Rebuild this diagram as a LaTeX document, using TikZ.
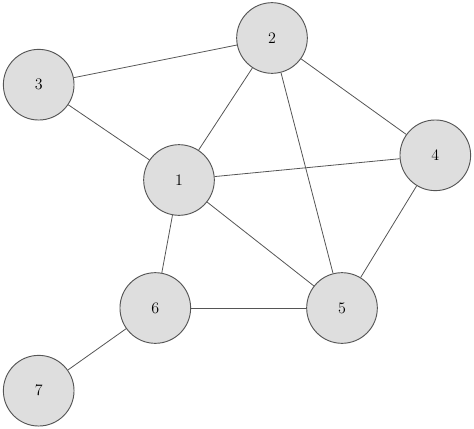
\documentclass[tikz,border=0pt]{standalone}
\usepackage{xcolor}
\definecolor{nodefill}{HTML}{DEDEDE}
\definecolor{edgecol}{HTML}{555555}
\begin{document}
\begin{tikzpicture}[x=0.75pt,y=-0.75pt,
  vertex/.style={circle,draw=edgecol,fill=nodefill,line width=0.7pt,minimum size=53pt,inner sep=0pt,font=\fontsize{12}{14}\selectfont},
  edge/.style={draw=edgecol,line width=0.6pt}]
\useasboundingbox (0,0) rectangle (474,428);
\node[vertex] (n1) at (179,180) {1};
\node[vertex] (n2) at (272,38) {2};
\node[vertex] (n3) at (38.7,84.7) {3};
\node[vertex] (n4) at (435.3,155.3) {4};
\node[vertex] (n5) at (342,308) {5};
\node[vertex] (n6) at (155.3,308) {6};
\node[vertex] (n7) at (38.7,390.7) {7};
\begin{scope}[on background layer/.try]
\end{scope}
\draw[edge] (n3) -- (n2);
\draw[edge] (n3) -- (n1);
\draw[edge] (n2) -- (n1);
\draw[edge] (n2) -- (n4);
\draw[edge] (n2) -- (n5);
\draw[edge] (n1) -- (n4);
\draw[edge] (n1) -- (n5);
\draw[edge] (n1) -- (n6);
\draw[edge] (n4) -- (n5);
\draw[edge] (n6) -- (n5);
\draw[edge] (n6) -- (n7);
\end{tikzpicture}
\end{document}
